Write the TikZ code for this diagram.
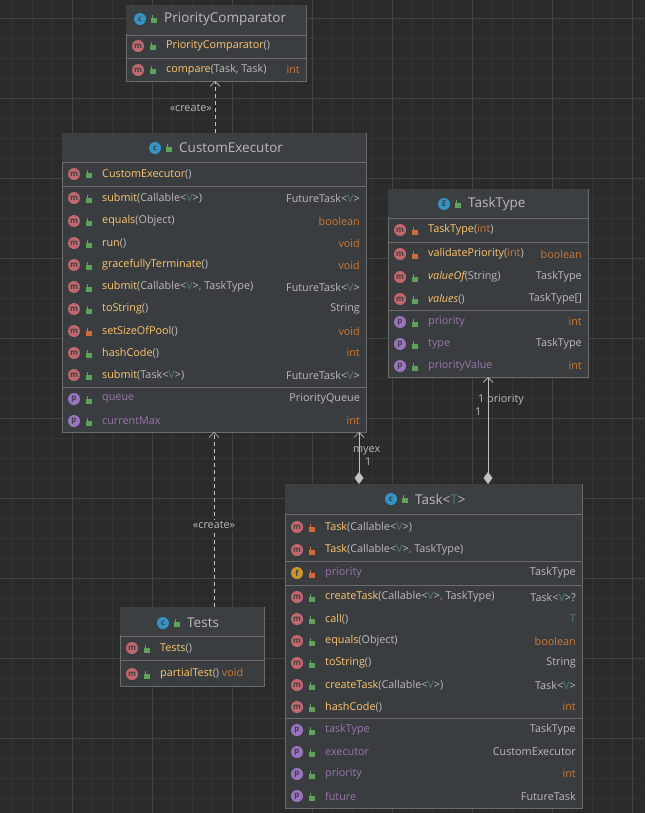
\documentclass[tikz,border=0pt]{standalone}
\usepackage{fontspec}
\setmainfont{Open Sans}
\usetikzlibrary{arrows.meta}
\definecolor{bg}{HTML}{2B2B2B}
\definecolor{gmin}{HTML}{333333}
\definecolor{gmaj}{HTML}{424242}
\definecolor{boxf}{HTML}{3A3D3F}
\definecolor{hdrf}{HTML}{3C3F41}
\definecolor{bord}{HTML}{6B6B6B}
\definecolor{txt}{HTML}{BBBBBB}
\definecolor{ylw}{HTML}{FFC66D}
\definecolor{org}{HTML}{CC7832}
\definecolor{pur}{HTML}{9876AA}
\definecolor{gen}{HTML}{507874}
\definecolor{icm}{HTML}{C2676E}
\definecolor{icc}{HTML}{3592C4}
\definecolor{icp}{HTML}{9A74C0}
\definecolor{icf}{HTML}{C9962B}
\definecolor{lpub}{HTML}{5FA35A}
\definecolor{lpriv}{HTML}{D2693A}
\newcommand\Yl[1]{\textcolor{ylw}{#1}}
\newcommand\Or[1]{\textcolor{org}{#1}}
\newcommand\Pu[1]{\textcolor{pur}{#1}}
\newcommand\Vg{\textcolor{gen}{V}}
\newcommand\urow[8]{%
  \node[circle,fill=#4,inner sep=0pt,minimum size=12pt,font=\fontsize{8}{8}\selectfont\bfseries,text=black!75] at (#1+12,#3) {#5};
  \fill[#6] (#1+24,#3-0.5) rectangle (#1+30,#3+4.5);
  \draw[#6,line width=1pt] (#1+25.5,#3-0.5) -- (#1+25.5,#3-3.5);
  \node[anchor=west,inner sep=0pt,text=txt,font=\rowf] at (#1+40,#3) {#7};
  \node[anchor=east,inner sep=0pt,text=txt,font=\rowf] at (#2-6,#3) {#8};
}
\newcommand\rowf{\fontsize{10.8}{12}\selectfont}
\newcommand\hdrf{\fontsize{13.5}{15}\selectfont}
\newcommand\sep[3]{\draw[bord,line width=0.6pt] (#1,#3) -- (#2,#3);}
\tikzset{
  umlbox/.style={draw=bord,fill=boxf,line width=0.8pt,anchor=north west,inner sep=0pt},
  dep/.style={draw=txt!85,dashed,dash pattern=on 4pt off 3pt,line width=0.7pt,-{Straight Barb[length=5pt,width=10pt]}},
  assoc/.style={draw=txt!90,line width=0.7pt,{Diamond[length=12pt,width=9pt,fill=txt!90]}-{Straight Barb[length=5pt,width=10pt]}},
  lbl/.style={text=txt,font=\fontsize{10.8}{12}\selectfont,inner sep=0pt},
  hicon/.style={circle,fill=icc,inner sep=0pt,minimum size=12pt,font=\fontsize{8}{8}\selectfont\bfseries,text=black!75},
  hlock/.style={fill=lpub}
}
\newcommand\hdr[5]{% x y width... : iconx y name letter lockx
  \node[hicon] at (#1,#2) {#4};
  \fill[hlock] (#1+11,#2-1) rectangle (#1+17,#2+4);
  \draw[lpub,line width=1pt] (#1+12.5,#2-1) -- (#1+12.5,#2-4);
  \node[anchor=west,text=txt,font=\hdrf,inner sep=0pt] at (#1+24,#2) {#3};
}
\begin{document}
\begin{tikzpicture}[x=1pt,y=-1pt]
\useasboundingbox (0,0) rectangle (645,813);
\fill[bg] (0,0) rectangle (645,813);
\foreach \x in {12,32,...,645} \draw[gmin,line width=0.5pt] (\x,0) -- (\x,813);
\foreach \y in {18,38,...,813} \draw[gmin,line width=0.5pt] (0,\y) -- (645,\y);
\foreach \x in {72,152,...,645} \draw[gmaj,line width=0.6pt] (\x,0) -- (\x,813);
\foreach \y in {18,98,...,813} \draw[gmaj,line width=0.6pt] (0,\y) -- (645,\y);

% PriorityComparator
\node[umlbox,minimum width=180pt,minimum height=76pt] (pc) at (126,5) {};
\fill[hdrf] (126.4,5.4) rectangle (305.6,34);
\hdr{140}{19}{PriorityComparator}{c}{}
\sep{126}{306}{35}
\urow{126}{306}{46}{icm}{m}{lpub}{\Yl{PriorityComparator}()}{}
\sep{126}{306}{58}
\urow{126}{306}{70}{icm}{m}{lpub}{\Yl{compare}(Task, Task)}{\Or{int}}

% CustomExecutor
\node[umlbox,minimum width=304pt,minimum height=299pt] (ce) at (62,133) {};
\fill[hdrf] (62.4,133.4) rectangle (365.6,162);
\hdr{155}{148}{CustomExecutor}{c}{}
\sep{62}{366}{162}
\urow{62}{366}{174}{icm}{m}{lpub}{\Yl{CustomExecutor}()}{}
\sep{62}{366}{186}
\urow{62}{366}{198}{icm}{m}{lpub}{\Yl{submit}(Callable<\Vg>)}{FutureTask<\Vg>}
\urow{62}{366}{221}{icm}{m}{lpub}{\Yl{equals}(Object)}{\Or{boolean}}
\urow{62}{366}{243}{icm}{m}{lpub}{\Yl{run}()}{\Or{void}}
\urow{62}{366}{265}{icm}{m}{lpub}{\Yl{gracefullyTerminate}()}{\Or{void}}
\urow{62}{366}{287}{icm}{m}{lpub}{\Yl{submit}(Callable<\Vg>\Or{,} TaskType)}{FutureTask<\Vg>}
\urow{62}{366}{309}{icm}{m}{lpub}{\Yl{toString}()}{String}
\urow{62}{366}{331}{icm}{m}{lpriv}{\Yl{setSizeOfPool}()}{\Or{void}}
\urow{62}{366}{353}{icm}{m}{lpub}{\Yl{hashCode}()}{\Or{int}}
\urow{62}{366}{375}{icm}{m}{lpub}{\Yl{submit}(Task<\Vg>)}{FutureTask<\Vg>}
\sep{62}{366}{387}
\urow{62}{366}{399}{icp}{p}{lpub}{\Pu{queue}}{PriorityQueue}
\urow{62}{366}{421}{icp}{p}{lpub}{\Pu{currentMax}}{\Or{int}}

% TaskType
\node[umlbox,minimum width=200pt,minimum height=188pt] (tt) at (388,189) {};
\fill[hdrf] (388.4,189.4) rectangle (587.6,217);
\hdr{444}{204}{TaskType}{E}{}
\sep{388}{588}{218}
\urow{388}{588}{230}{icm}{m}{lpriv}{\Yl{TaskType}(\Or{int})}{}
\sep{388}{588}{242}
\urow{388}{588}{254}{icm}{m}{lpriv}{\Yl{validatePriority}(\Or{int})}{\Or{boolean}}
\urow{388}{588}{277}{icm}{m}{lpub}{\Yl{\itshape valueOf}(String)}{TaskType}
\urow{388}{588}{299}{icm}{m}{lpub}{\Yl{\itshape values}()}{TaskType[]}
\sep{388}{588}{310}
\urow{388}{588}{322}{icp}{p}{lpub}{\Pu{priority}}{\Or{int}}
\urow{388}{588}{344}{icp}{p}{lpub}{\Pu{type}}{TaskType}
\urow{388}{588}{366}{icp}{p}{lpub}{\Pu{priorityValue}}{\Or{int}}

% Task
\node[umlbox,minimum width=297pt,minimum height=324pt] (tk) at (285,484) {};
\fill[hdrf] (285.4,484.4) rectangle (581.6,513);
\hdr{391}{499}{Task<\textcolor{gen}{T}>}{c}{}
\sep{285}{582}{514}
\urow{285}{582}{527}{icm}{m}{lpriv}{\Yl{Task}(Callable<\Vg>)}{}
\urow{285}{582}{550}{icm}{m}{lpriv}{\Yl{Task}(Callable<\Vg>\Or{,} TaskType)}{}
\sep{285}{582}{561}
\urow{285}{582}{573}{icf}{f}{lpriv}{\Pu{priority}}{TaskType}
\sep{285}{582}{585}
\urow{285}{582}{597}{icm}{m}{lpub}{\Yl{createTask}(Callable<\Vg>\Or{,} TaskType)}{Task<\Vg>?}
\urow{285}{582}{619}{icm}{m}{lpub}{\Yl{call}()}{\textcolor{gen}{T}}
\urow{285}{582}{641}{icm}{m}{lpub}{\Yl{equals}(Object)}{\Or{boolean}}
\urow{285}{582}{663}{icm}{m}{lpub}{\Yl{toString}()}{String}
\urow{285}{582}{685}{icm}{m}{lpub}{\Yl{createTask}(Callable<\Vg>)}{Task<\Vg>}
\urow{285}{582}{707}{icm}{m}{lpub}{\Yl{hashCode}()}{\Or{int}}
\sep{285}{582}{718}
\urow{285}{582}{730}{icp}{p}{lpub}{\Pu{taskType}}{TaskType}
\urow{285}{582}{752}{icp}{p}{lpub}{\Pu{executor}}{CustomExecutor}
\urow{285}{582}{774}{icp}{p}{lpub}{\Pu{priority}}{\Or{int}}
\urow{285}{582}{796}{icp}{p}{lpub}{\Pu{future}}{FutureTask}

% Tests
\node[umlbox,minimum width=144pt,minimum height=79pt] (ts) at (120,607) {};
\fill[hdrf] (120.4,607.4) rectangle (263.6,635);
\hdr{163}{623}{Tests}{c}{}
\sep{120}{264}{636}
\urow{120}{264}{648}{icm}{m}{lpub}{\Yl{Tests}()}{}
\sep{120}{264}{660}
\urow{120}{264}{674}{icm}{m}{lpub}{\Yl{partialTest}() \Or{void}}{}

% connectors
\coordinate (ceTop) at (215,133);
\coordinate (pcBot) at (215,81);
\draw[dep] (ceTop) -- (pcBot);
\node[lbl,anchor=east] (l1) at (212,108) {«create»};
\coordinate (tsTop) at (214,607);
\coordinate (ceBot) at (214,432);
\draw[dep] (tsTop) -- (ceBot);
\node[lbl,fill=bg,inner sep=1pt] (l2) at (214,525) {«create»};
\coordinate (tkA) at (359,484);
\coordinate (ceB) at (359,432);
\draw[assoc] (tkA) -- (ceB);
\node[lbl,anchor=west] (l3) at (353,451) {myex};
\node[lbl,anchor=west] (l4) at (365,462) {1};
\coordinate (tkB) at (488,484);
\coordinate (ttB) at (488,377);
\draw[assoc] (tkB) -- (ttB);
\node[lbl,anchor=west] (l5) at (478,400) {1 priority};
\node[lbl,anchor=west] (l6) at (475,412) {1};
\end{tikzpicture}
\end{document}
